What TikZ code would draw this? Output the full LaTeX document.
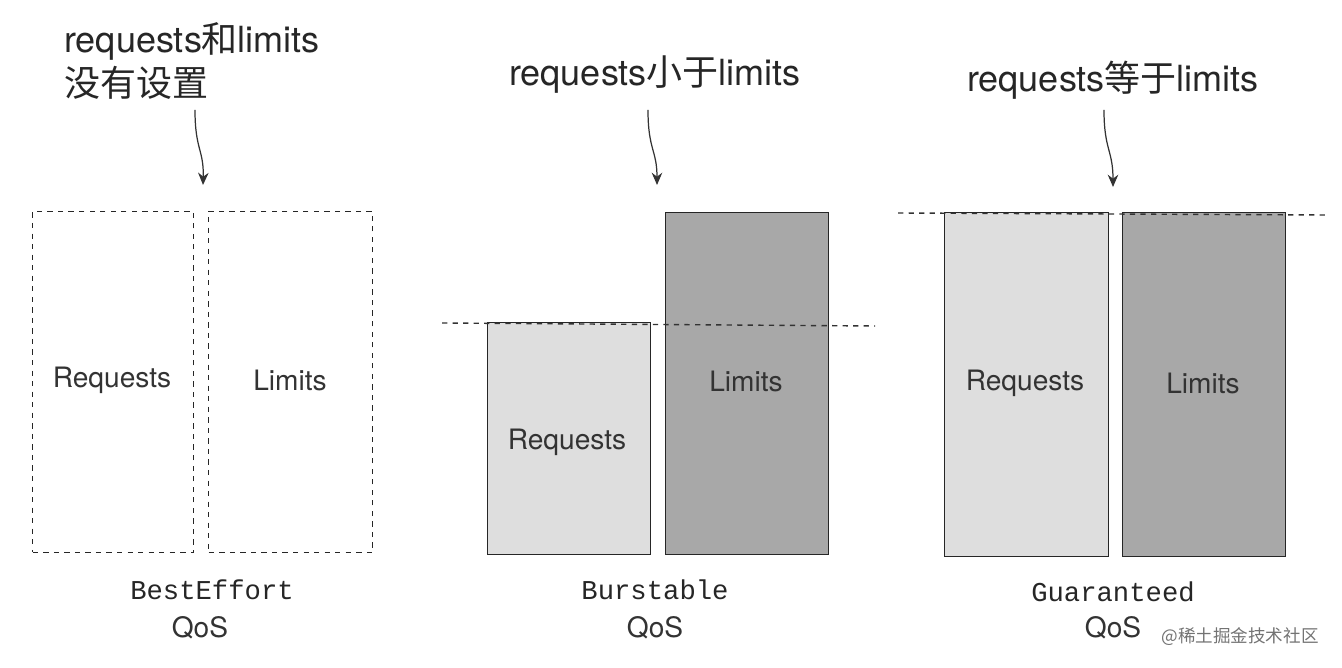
\documentclass[tikz,border=0pt]{standalone}
\usepackage{fontspec}
\setmainfont{TeX Gyre Heros}
\setmonofont{Liberation Mono}
\newfontfamily\cjk{Noto Sans CJK SC}
\usetikzlibrary{arrows.meta}

\tikzset{
  bar/.style={draw=black!85, line width=0.8pt, anchor=south west, inner sep=0pt},
  light/.style={bar, fill=black!13},
  dark/.style={bar, fill=black!34},
  empty/.style={bar, dashed},
  lbl/.style={font=\fontsize{16}{18}\selectfont, text=black!80},
  title/.style={font=\fontsize{20.5}{25}\selectfont, text=black!85, align=left},
  mono/.style={font=\ttfamily\fontsize{15.5}{17}\selectfont, text=black!85},
  arr/.style={-{Stealth[length=7pt,width=6pt]}, line width=0.7pt, black!80},
  level/.style={dashed, line width=0.8pt, black!80}
}

\begin{document}
\begin{tikzpicture}[x=0.02cm, y=-0.02cm]
  \useasboundingbox (0,0) rectangle (1342,668);

  % BestEffort
  \node[title, anchor=north west] (t1) at (58,16) {requests{\cjk 和}limits\\{\cjk 没有设置}};
  \node[empty, minimum width=161*0.02cm, minimum height=341*0.02cm] (r1) at (32,553) {};
  \node[empty, minimum width=164*0.02cm, minimum height=341*0.02cm] (l1) at (208,553) {};
  \node[lbl] at (112,380) {Requests};
  \node[lbl] at (290,380) {Limits};
  \coordinate (a1) at (195,110);
  \coordinate (b1) at (203,185);
  \draw[arr] (a1) .. controls (195,150) and (204,150) .. (b1);
  \node[mono] (n1) at (212,590) {BestEffort};
  \node[lbl] (q1) at (200,628) {QoS};

  % Burstable
  \node[title] (t2) at (655,75) {requests{\cjk 小于}limits};
  \node[light, minimum width=163*0.02cm, minimum height=232*0.02cm] (r2) at (487,555) {};
  \node[dark, minimum width=163*0.02cm, minimum height=342*0.02cm] (l2) at (665,555) {};
  \node[lbl] at (567,442) {Requests};
  \node[lbl] at (746,381) {Limits};
  \coordinate (c2) at (442,323);
  \coordinate (d2) at (875,326);
  \draw[level] (c2) -- (d2);
  \coordinate (a2) at (648,110);
  \coordinate (b2) at (657,185);
  \draw[arr] (a2) .. controls (648,150) and (657,150) .. (b2);
  \node[mono] (n2) at (655,590) {Burstable};
  \node[lbl] (q2) at (655,628) {QoS};

  % Guaranteed
  \node[title] (t3) at (1113,80) {requests{\cjk 等于}limits};
  \node[light, minimum width=164*0.02cm, minimum height=344*0.02cm] (r3) at (944,557) {};
  \node[dark, minimum width=163*0.02cm, minimum height=344*0.02cm] (l3) at (1122,557) {};
  \node[lbl] at (1025,383) {Requests};
  \node[lbl] at (1203,383) {Limits};
  \coordinate (c3) at (898,213);
  \coordinate (d3) at (1325,215);
  \draw[level] (c3) -- (d3);
  \coordinate (a3) at (1104,110);
  \coordinate (b3) at (1113,187);
  \draw[arr] (a3) .. controls (1104,150) and (1113,150) .. (b3);
  \node[mono] (n3) at (1113,592) {Guaranteed};
  \node[lbl] (q3) at (1113,628) {QoS};

  \node[font=\cjk\fontsize{10}{12}\selectfont, text=black!55] (wm) at (1240,637) {@稀土掘金技术社区};
\end{tikzpicture}
\end{document}
